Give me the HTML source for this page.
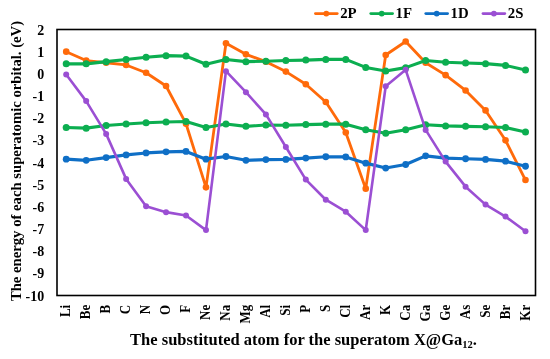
<!DOCTYPE html>
<html><head><meta charset="utf-8"><title>chart</title>
<style>
html,body{margin:0;padding:0;background:#fff;}
body{width:550px;height:359px;overflow:hidden;}
svg{display:block;filter:blur(0.45px);}
text{font-family:"Liberation Serif",serif;font-weight:bold;fill:#000;}
.t{font-size:14px;}
.x{font-size:13px;}
.a{font-size:16.5px;}
.ay{font-size:14.7px;}
.l{font-size:14.8px;}
</style></head><body>
<svg width="550" height="359" viewBox="0 0 550 359">
<rect width="550" height="359" fill="#fff"/>
<rect x="57.0" y="29.5" width="478.5" height="266.0" fill="none" stroke="#000" stroke-width="1.6"/>
<polyline points="66.20,51.67 86.17,60.53 106.14,62.75 126.11,64.97 146.08,72.72 166.05,86.03 186.02,123.71 205.99,187.33 225.96,43.24 245.93,54.33 265.90,61.64 285.87,71.62 305.83,84.25 325.80,101.98 345.77,132.57 365.74,188.66 385.71,54.99 405.68,41.47 425.65,62.75 445.62,75.16 465.59,90.46 485.56,110.41 505.53,140.33 525.50,180.01" fill="none" stroke="#FF6A0A" stroke-width="2.8" stroke-linejoin="round" stroke-linecap="round"/><circle cx="66.20" cy="51.67" r="3.3" fill="#FF6A0A"/><circle cx="86.17" cy="60.53" r="3.3" fill="#FF6A0A"/><circle cx="106.14" cy="62.75" r="3.3" fill="#FF6A0A"/><circle cx="126.11" cy="64.97" r="3.3" fill="#FF6A0A"/><circle cx="146.08" cy="72.72" r="3.3" fill="#FF6A0A"/><circle cx="166.05" cy="86.03" r="3.3" fill="#FF6A0A"/><circle cx="186.02" cy="123.71" r="3.3" fill="#FF6A0A"/><circle cx="205.99" cy="187.33" r="3.3" fill="#FF6A0A"/><circle cx="225.96" cy="43.24" r="3.3" fill="#FF6A0A"/><circle cx="245.93" cy="54.33" r="3.3" fill="#FF6A0A"/><circle cx="265.90" cy="61.64" r="3.3" fill="#FF6A0A"/><circle cx="285.87" cy="71.62" r="3.3" fill="#FF6A0A"/><circle cx="305.83" cy="84.25" r="3.3" fill="#FF6A0A"/><circle cx="325.80" cy="101.98" r="3.3" fill="#FF6A0A"/><circle cx="345.77" cy="132.57" r="3.3" fill="#FF6A0A"/><circle cx="365.74" cy="188.66" r="3.3" fill="#FF6A0A"/><circle cx="385.71" cy="54.99" r="3.3" fill="#FF6A0A"/><circle cx="405.68" cy="41.47" r="3.3" fill="#FF6A0A"/><circle cx="425.65" cy="62.75" r="3.3" fill="#FF6A0A"/><circle cx="445.62" cy="75.16" r="3.3" fill="#FF6A0A"/><circle cx="465.59" cy="90.46" r="3.3" fill="#FF6A0A"/><circle cx="485.56" cy="110.41" r="3.3" fill="#FF6A0A"/><circle cx="505.53" cy="140.33" r="3.3" fill="#FF6A0A"/><circle cx="525.50" cy="180.01" r="3.3" fill="#FF6A0A"/>
<polyline points="66.20,63.86 86.17,63.86 106.14,61.64 126.11,59.42 146.08,57.21 166.05,55.66 186.02,56.10 205.99,64.30 225.96,59.42 245.93,61.64 265.90,61.20 285.87,60.53 305.83,60.09 325.80,59.42 345.77,59.42 365.74,67.41 385.71,70.95 405.68,67.63 425.65,60.53 445.62,62.31 465.59,62.97 485.56,63.64 505.53,65.41 525.50,70.06" fill="none" stroke="#0CAE50" stroke-width="3.1" stroke-linejoin="round" stroke-linecap="round"/><circle cx="66.20" cy="63.86" r="3.5" fill="#0CAE50"/><circle cx="86.17" cy="63.86" r="3.5" fill="#0CAE50"/><circle cx="106.14" cy="61.64" r="3.5" fill="#0CAE50"/><circle cx="126.11" cy="59.42" r="3.5" fill="#0CAE50"/><circle cx="146.08" cy="57.21" r="3.5" fill="#0CAE50"/><circle cx="166.05" cy="55.66" r="3.5" fill="#0CAE50"/><circle cx="186.02" cy="56.10" r="3.5" fill="#0CAE50"/><circle cx="205.99" cy="64.30" r="3.5" fill="#0CAE50"/><circle cx="225.96" cy="59.42" r="3.5" fill="#0CAE50"/><circle cx="245.93" cy="61.64" r="3.5" fill="#0CAE50"/><circle cx="265.90" cy="61.20" r="3.5" fill="#0CAE50"/><circle cx="285.87" cy="60.53" r="3.5" fill="#0CAE50"/><circle cx="305.83" cy="60.09" r="3.5" fill="#0CAE50"/><circle cx="325.80" cy="59.42" r="3.5" fill="#0CAE50"/><circle cx="345.77" cy="59.42" r="3.5" fill="#0CAE50"/><circle cx="365.74" cy="67.41" r="3.5" fill="#0CAE50"/><circle cx="385.71" cy="70.95" r="3.5" fill="#0CAE50"/><circle cx="405.68" cy="67.63" r="3.5" fill="#0CAE50"/><circle cx="425.65" cy="60.53" r="3.5" fill="#0CAE50"/><circle cx="445.62" cy="62.31" r="3.5" fill="#0CAE50"/><circle cx="465.59" cy="62.97" r="3.5" fill="#0CAE50"/><circle cx="485.56" cy="63.64" r="3.5" fill="#0CAE50"/><circle cx="505.53" cy="65.41" r="3.5" fill="#0CAE50"/><circle cx="525.50" cy="70.06" r="3.5" fill="#0CAE50"/>
<polyline points="66.20,127.48 86.17,128.14 106.14,125.48 126.11,123.93 146.08,122.82 166.05,121.94 186.02,121.49 205.99,127.48 225.96,123.93 245.93,126.37 265.90,125.04 285.87,125.26 305.83,124.60 325.80,124.15 345.77,124.15 365.74,129.69 385.71,133.24 405.68,129.69 425.65,124.82 445.62,125.92 465.59,126.37 485.56,126.81 505.53,127.48 525.50,131.91" fill="none" stroke="#0CAE50" stroke-width="3.1" stroke-linejoin="round" stroke-linecap="round"/><circle cx="66.20" cy="127.48" r="3.5" fill="#0CAE50"/><circle cx="86.17" cy="128.14" r="3.5" fill="#0CAE50"/><circle cx="106.14" cy="125.48" r="3.5" fill="#0CAE50"/><circle cx="126.11" cy="123.93" r="3.5" fill="#0CAE50"/><circle cx="146.08" cy="122.82" r="3.5" fill="#0CAE50"/><circle cx="166.05" cy="121.94" r="3.5" fill="#0CAE50"/><circle cx="186.02" cy="121.49" r="3.5" fill="#0CAE50"/><circle cx="205.99" cy="127.48" r="3.5" fill="#0CAE50"/><circle cx="225.96" cy="123.93" r="3.5" fill="#0CAE50"/><circle cx="245.93" cy="126.37" r="3.5" fill="#0CAE50"/><circle cx="265.90" cy="125.04" r="3.5" fill="#0CAE50"/><circle cx="285.87" cy="125.26" r="3.5" fill="#0CAE50"/><circle cx="305.83" cy="124.60" r="3.5" fill="#0CAE50"/><circle cx="325.80" cy="124.15" r="3.5" fill="#0CAE50"/><circle cx="345.77" cy="124.15" r="3.5" fill="#0CAE50"/><circle cx="365.74" cy="129.69" r="3.5" fill="#0CAE50"/><circle cx="385.71" cy="133.24" r="3.5" fill="#0CAE50"/><circle cx="405.68" cy="129.69" r="3.5" fill="#0CAE50"/><circle cx="425.65" cy="124.82" r="3.5" fill="#0CAE50"/><circle cx="445.62" cy="125.92" r="3.5" fill="#0CAE50"/><circle cx="465.59" cy="126.37" r="3.5" fill="#0CAE50"/><circle cx="485.56" cy="126.81" r="3.5" fill="#0CAE50"/><circle cx="505.53" cy="127.48" r="3.5" fill="#0CAE50"/><circle cx="525.50" cy="131.91" r="3.5" fill="#0CAE50"/>
<polyline points="66.20,159.17 86.17,160.28 106.14,157.62 126.11,154.96 146.08,152.97 166.05,151.86 186.02,151.42 205.99,159.17 225.96,156.51 245.93,160.28 265.90,159.62 285.87,159.40 305.83,158.07 325.80,156.74 345.77,156.96 365.74,163.16 385.71,168.04 405.68,164.50 425.65,155.85 445.62,158.07 465.59,158.73 485.56,159.40 505.53,161.17 525.50,166.27" fill="none" stroke="#0F6FC6" stroke-width="3.2" stroke-linejoin="round" stroke-linecap="round"/><circle cx="66.20" cy="159.17" r="3.4" fill="#0F6FC6"/><circle cx="86.17" cy="160.28" r="3.4" fill="#0F6FC6"/><circle cx="106.14" cy="157.62" r="3.4" fill="#0F6FC6"/><circle cx="126.11" cy="154.96" r="3.4" fill="#0F6FC6"/><circle cx="146.08" cy="152.97" r="3.4" fill="#0F6FC6"/><circle cx="166.05" cy="151.86" r="3.4" fill="#0F6FC6"/><circle cx="186.02" cy="151.42" r="3.4" fill="#0F6FC6"/><circle cx="205.99" cy="159.17" r="3.4" fill="#0F6FC6"/><circle cx="225.96" cy="156.51" r="3.4" fill="#0F6FC6"/><circle cx="245.93" cy="160.28" r="3.4" fill="#0F6FC6"/><circle cx="265.90" cy="159.62" r="3.4" fill="#0F6FC6"/><circle cx="285.87" cy="159.40" r="3.4" fill="#0F6FC6"/><circle cx="305.83" cy="158.07" r="3.4" fill="#0F6FC6"/><circle cx="325.80" cy="156.74" r="3.4" fill="#0F6FC6"/><circle cx="345.77" cy="156.96" r="3.4" fill="#0F6FC6"/><circle cx="365.74" cy="163.16" r="3.4" fill="#0F6FC6"/><circle cx="385.71" cy="168.04" r="3.4" fill="#0F6FC6"/><circle cx="405.68" cy="164.50" r="3.4" fill="#0F6FC6"/><circle cx="425.65" cy="155.85" r="3.4" fill="#0F6FC6"/><circle cx="445.62" cy="158.07" r="3.4" fill="#0F6FC6"/><circle cx="465.59" cy="158.73" r="3.4" fill="#0F6FC6"/><circle cx="485.56" cy="159.40" r="3.4" fill="#0F6FC6"/><circle cx="505.53" cy="161.17" r="3.4" fill="#0F6FC6"/><circle cx="525.50" cy="166.27" r="3.4" fill="#0F6FC6"/>
<polyline points="66.20,74.50 86.17,101.10 106.14,133.90 126.11,178.90 146.08,206.17 166.05,212.15 186.02,215.48 205.99,230.11 225.96,71.17 245.93,92.23 265.90,114.40 285.87,146.98 305.83,179.57 325.80,199.74 345.77,211.71 365.74,230.11 385.71,86.25 405.68,69.84 425.65,129.91 445.62,161.61 465.59,186.66 485.56,204.62 505.53,216.59 525.50,231.22" fill="none" stroke="#9B4FD3" stroke-width="2.6" stroke-linejoin="round" stroke-linecap="round"/><circle cx="66.20" cy="74.50" r="3.0" fill="#9B4FD3"/><circle cx="86.17" cy="101.10" r="3.0" fill="#9B4FD3"/><circle cx="106.14" cy="133.90" r="3.0" fill="#9B4FD3"/><circle cx="126.11" cy="178.90" r="3.0" fill="#9B4FD3"/><circle cx="146.08" cy="206.17" r="3.0" fill="#9B4FD3"/><circle cx="166.05" cy="212.15" r="3.0" fill="#9B4FD3"/><circle cx="186.02" cy="215.48" r="3.0" fill="#9B4FD3"/><circle cx="205.99" cy="230.11" r="3.0" fill="#9B4FD3"/><circle cx="225.96" cy="71.17" r="3.0" fill="#9B4FD3"/><circle cx="245.93" cy="92.23" r="3.0" fill="#9B4FD3"/><circle cx="265.90" cy="114.40" r="3.0" fill="#9B4FD3"/><circle cx="285.87" cy="146.98" r="3.0" fill="#9B4FD3"/><circle cx="305.83" cy="179.57" r="3.0" fill="#9B4FD3"/><circle cx="325.80" cy="199.74" r="3.0" fill="#9B4FD3"/><circle cx="345.77" cy="211.71" r="3.0" fill="#9B4FD3"/><circle cx="365.74" cy="230.11" r="3.0" fill="#9B4FD3"/><circle cx="385.71" cy="86.25" r="3.0" fill="#9B4FD3"/><circle cx="405.68" cy="69.84" r="3.0" fill="#9B4FD3"/><circle cx="425.65" cy="129.91" r="3.0" fill="#9B4FD3"/><circle cx="445.62" cy="161.61" r="3.0" fill="#9B4FD3"/><circle cx="465.59" cy="186.66" r="3.0" fill="#9B4FD3"/><circle cx="485.56" cy="204.62" r="3.0" fill="#9B4FD3"/><circle cx="505.53" cy="216.59" r="3.0" fill="#9B4FD3"/><circle cx="525.50" cy="231.22" r="3.0" fill="#9B4FD3"/>
<text transform="translate(44.2,34.50) scale(1,1.03)" text-anchor="end" class="t">2</text>
<text transform="translate(44.2,56.67) scale(1,1.03)" text-anchor="end" class="t">1</text>
<text transform="translate(44.2,78.83) scale(1,1.03)" text-anchor="end" class="t">0</text>
<text transform="translate(44.2,101.00) scale(1,1.03)" text-anchor="end" class="t">-1</text>
<text transform="translate(44.2,123.17) scale(1,1.03)" text-anchor="end" class="t">-2</text>
<text transform="translate(44.2,145.33) scale(1,1.03)" text-anchor="end" class="t">-3</text>
<text transform="translate(44.2,167.50) scale(1,1.03)" text-anchor="end" class="t">-4</text>
<text transform="translate(44.2,189.67) scale(1,1.03)" text-anchor="end" class="t">-5</text>
<text transform="translate(44.2,211.83) scale(1,1.03)" text-anchor="end" class="t">-6</text>
<text transform="translate(44.2,234.00) scale(1,1.03)" text-anchor="end" class="t">-7</text>
<text transform="translate(44.2,256.17) scale(1,1.03)" text-anchor="end" class="t">-8</text>
<text transform="translate(44.2,278.33) scale(1,1.03)" text-anchor="end" class="t">-9</text>
<text transform="translate(44.2,300.50) scale(1,1.03)" text-anchor="end" class="t">-10</text>
<text transform="translate(70.40,304.8) rotate(-90) scale(1,1.17)" text-anchor="end" class="x">Li</text>
<text transform="translate(90.37,304.8) rotate(-90) scale(1,1.17)" text-anchor="end" class="x">Be</text>
<text transform="translate(110.34,304.8) rotate(-90) scale(1,1.17)" text-anchor="end" class="x">B</text>
<text transform="translate(130.31,304.8) rotate(-90) scale(1,1.17)" text-anchor="end" class="x">C</text>
<text transform="translate(150.28,304.8) rotate(-90) scale(1,1.17)" text-anchor="end" class="x">N</text>
<text transform="translate(170.25,304.8) rotate(-90) scale(1,1.17)" text-anchor="end" class="x">O</text>
<text transform="translate(190.22,304.8) rotate(-90) scale(1,1.17)" text-anchor="end" class="x">F</text>
<text transform="translate(210.19,304.8) rotate(-90) scale(1,1.17)" text-anchor="end" class="x">Ne</text>
<text transform="translate(230.16,304.8) rotate(-90) scale(1,1.17)" text-anchor="end" class="x">Na</text>
<text transform="translate(250.13,304.8) rotate(-90) scale(1,1.17)" text-anchor="end" class="x">Mg</text>
<text transform="translate(270.10,304.8) rotate(-90) scale(1,1.17)" text-anchor="end" class="x">Al</text>
<text transform="translate(290.07,304.8) rotate(-90) scale(1,1.17)" text-anchor="end" class="x">Si</text>
<text transform="translate(310.03,304.8) rotate(-90) scale(1,1.17)" text-anchor="end" class="x">P</text>
<text transform="translate(330.00,304.8) rotate(-90) scale(1,1.17)" text-anchor="end" class="x">S</text>
<text transform="translate(349.97,304.8) rotate(-90) scale(1,1.17)" text-anchor="end" class="x">Cl</text>
<text transform="translate(369.94,304.8) rotate(-90) scale(1,1.17)" text-anchor="end" class="x">Ar</text>
<text transform="translate(389.91,304.8) rotate(-90) scale(1,1.17)" text-anchor="end" class="x">K</text>
<text transform="translate(409.88,304.8) rotate(-90) scale(1,1.17)" text-anchor="end" class="x">Ca</text>
<text transform="translate(429.85,304.8) rotate(-90) scale(1,1.17)" text-anchor="end" class="x">Ga</text>
<text transform="translate(449.82,304.8) rotate(-90) scale(1,1.17)" text-anchor="end" class="x">Ge</text>
<text transform="translate(469.79,304.8) rotate(-90) scale(1,1.17)" text-anchor="end" class="x">As</text>
<text transform="translate(489.76,304.8) rotate(-90) scale(1,1.17)" text-anchor="end" class="x">Se</text>
<text transform="translate(509.73,304.8) rotate(-90) scale(1,1.17)" text-anchor="end" class="x">Br</text>
<text transform="translate(529.70,304.8) rotate(-90) scale(1,1.17)" text-anchor="end" class="x">Kr</text>
<text transform="translate(20.8,161) rotate(-90)" text-anchor="middle" class="ay">The energy of each superatomic orbital. (eV)</text>
<text x="303.5" y="344.8" text-anchor="middle" class="a">The substituted atom for the superatom X@Ga<tspan dy="3.6" font-size="10.5">12</tspan><tspan dy="-3.6">.</tspan></text>
<line x1="315.4" y1="13.6" x2="337.2" y2="13.6" stroke="#FF6A0A" stroke-width="2.8" stroke-linecap="round"/><circle cx="326.3" cy="13.6" r="2.9" fill="#FF6A0A"/>
<text x="340.2" y="18" class="l">2P</text>
<line x1="370.79999999999995" y1="13.6" x2="392.59999999999997" y2="13.6" stroke="#0CAE50" stroke-width="2.8" stroke-linecap="round"/><circle cx="381.7" cy="13.6" r="2.9" fill="#0CAE50"/>
<text x="395.59999999999997" y="18" class="l">1F</text>
<line x1="425.79999999999995" y1="13.6" x2="447.59999999999997" y2="13.6" stroke="#0F6FC6" stroke-width="2.8" stroke-linecap="round"/><circle cx="436.7" cy="13.6" r="2.9" fill="#0F6FC6"/>
<text x="450.59999999999997" y="18" class="l">1D</text>
<line x1="483.0" y1="13.6" x2="504.8" y2="13.6" stroke="#9B4FD3" stroke-width="2.8" stroke-linecap="round"/><circle cx="493.90000000000003" cy="13.6" r="2.9" fill="#9B4FD3"/>
<text x="507.8" y="18" class="l">2S</text>
</svg>
</body></html>
